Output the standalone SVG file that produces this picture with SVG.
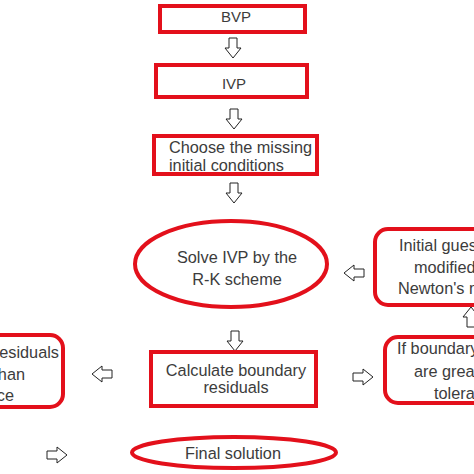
<svg xmlns="http://www.w3.org/2000/svg" width="474" height="474" viewBox="0 0 474 474">
<style>
.box{fill:#fff;stroke:#e3101b;stroke-width:4}
.t{font-family:"Liberation Sans",Arial,sans-serif;font-size:16.3px;fill:#3c3c3c}
.m{text-anchor:middle}
.e{text-anchor:end}
.arr{fill:#fff;stroke:#222;stroke-width:1;stroke-linejoin:miter}
</style>
<defs>
<path id="ar" d="M0,-4 H10 V-8 L20,0 L10,8 V4 H0 Z"/>
</defs>
<rect width="474" height="474" fill="#fff"/>
<g id="connectors">
<use href="#ar" class="arr" transform="translate(233,38) rotate(90)"/>
<use href="#ar" class="arr" transform="translate(234,109) rotate(90)"/>
<use href="#ar" class="arr" transform="translate(234,183) rotate(90)"/>
<use href="#ar" class="arr" transform="translate(235,331) rotate(90)"/>
<use href="#ar" class="arr" transform="translate(364,273) rotate(180)"/>
<use href="#ar" class="arr" transform="translate(471,327) rotate(-90)"/>
<use href="#ar" class="arr" transform="translate(353,377)"/>
<use href="#ar" class="arr" transform="translate(112,374) rotate(180)"/>
<use href="#ar" class="arr" transform="translate(47,455)"/>
</g>
<g id="bvp">
<rect class="box" x="160" y="6" width="145" height="26"/>
<text class="t m" x="236" y="22" style="font-size:15px">BVP</text>
</g>
<g id="ivp">
<rect class="box" x="156" y="65" width="151" height="32"/>
<text class="t m" x="234" y="89" style="font-size:15px">IVP</text>
</g>
<g id="choose">
<rect class="box" x="154" y="136" width="163" height="38"/>
<text class="t" x="169" y="153">Choose the missing</text>
<text class="t" x="169" y="171">initial conditions</text>
</g>
<g id="solve">
<ellipse class="box" cx="231" cy="264" rx="96" ry="43"/>
<text class="t m" x="237" y="263">Solve IVP by the</text>
<text class="t m" x="237" y="285">R-K scheme</text>
</g>
<g id="guess">
<rect class="box" x="375" y="229" width="160" height="76" rx="13"/>
<text class="t" x="399" y="251">Initial guess</text>
<text class="t" x="414" y="273">modified by</text>
<text class="t" x="398" y="294">Newton's method</text>
</g>
<g id="calc">
<rect class="box" x="151" y="352" width="165" height="54"/>
<text class="t m" x="236" y="376">Calculate boundary</text>
<text class="t m" x="236" y="393">residuals</text>
</g>
<g id="greater">
<rect class="box" x="385" y="337" width="160" height="66" rx="13"/>
<text class="t" x="397" y="354">If boundary residuals</text>
<text class="t" x="414" y="377">are greater than</text>
<text class="t" x="434" y="399">tolerance</text>
</g>
<g id="less">
<rect class="box" x="-100" y="335" width="163" height="72" rx="13"/>
<text class="t e" x="59" y="358">If boundary residuals</text>
<text class="t e" x="25" y="380">are less than</text>
<text class="t e" x="14" y="401">tolerance</text>
</g>
<g id="final">
<ellipse class="box" cx="234" cy="452.5" rx="102" ry="15.5"/>
<text class="t m" x="233" y="459">Final solution</text>
</g>
</svg>
